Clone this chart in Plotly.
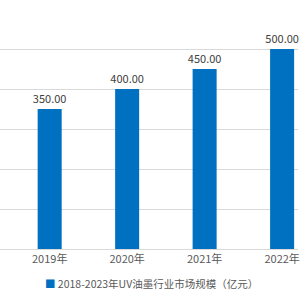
import plotly.graph_objects as go

years = ["2019年", "2020年", "2021年", "2022年"]
values = [350, 400, 450, 500]
series_name = "2018-2023年UV油墨行业市场规模（亿元）"
bar_color = "#0070C0"

fig = go.Figure()
fig.add_trace(go.Bar(
    x=years, y=values, name=series_name,
    marker=dict(color=bar_color, line=dict(width=0)),
    width=0.31,
    text=[f"{v:.2f}" for v in values],
    textposition="outside",
    constraintext="none",
    textfont=dict(size=11, color="#404040", family="Noto Sans CJK SC"),
    cliponaxis=False,
    showlegend=False,
))

fig.add_annotation(
    xref="paper", yref="paper", x=43 / 300, y=-0.142, xanchor="left", yanchor="middle",
    text=f"<span style='color:{bar_color}'>■</span> {series_name}",
    showarrow=False, font=dict(size=10.5, color="#595959", family="Noto Sans CJK SC"),
)

fig.update_layout(
    width=300, height=300,
    margin=dict(l=0, r=0, t=9, b=51),
    paper_bgcolor="white", plot_bgcolor="white",
    font=dict(family="Noto Sans CJK SC", color="#595959", size=11),
    showlegend=False,
)
fig.update_xaxes(range=[-0.641, 3.205], showgrid=False, showline=True, linecolor="#d9d9d9",
                 linewidth=1, ticks="", tickfont=dict(size=11, color="#595959"))
fig.update_yaxes(range=[0, 600], dtick=100, showgrid=True, gridcolor="#d9d9d9", gridwidth=1,
                 showticklabels=False, zeroline=False, showline=False)

fig.write_html("out.html")
